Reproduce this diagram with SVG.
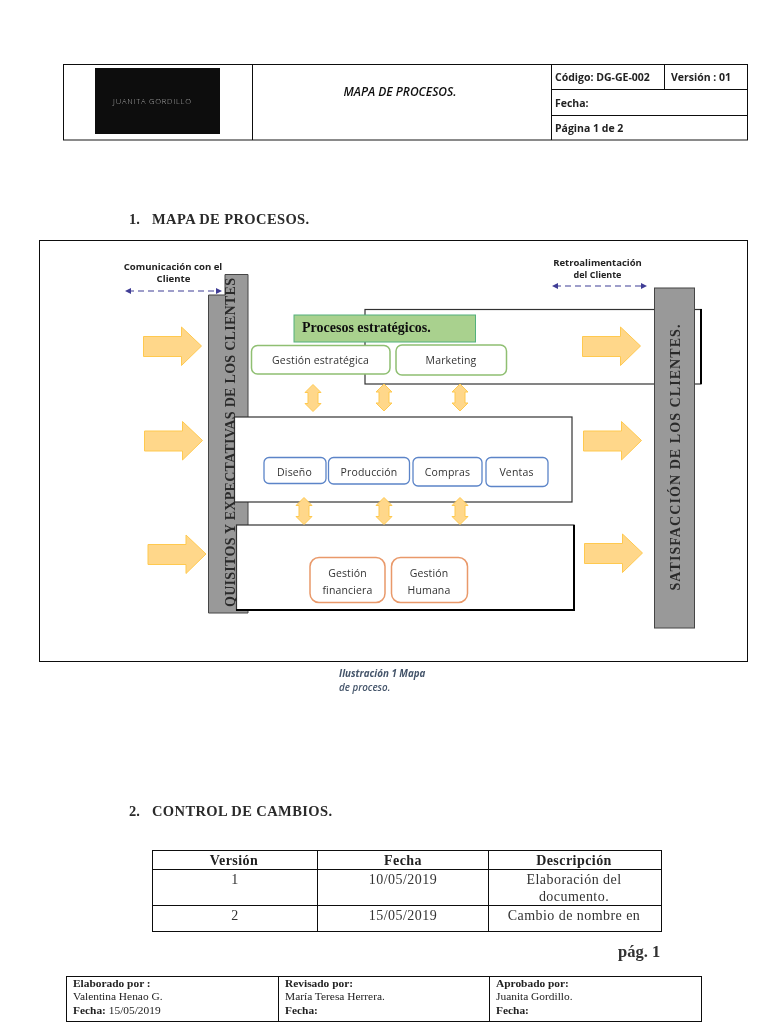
<svg xmlns="http://www.w3.org/2000/svg" width="768" height="1024" viewBox="0 0 768 1024">
<style>
text{fill:#111;font-family:"Liberation Serif",serif}
.s{font-family:"Open Sans","Liberation Sans",sans-serif}
.m{text-anchor:middle}
.b{font-weight:bold}
.ln{fill:none;stroke:#111;stroke-width:1}
.box{fill:#fff;stroke:#333;stroke-width:1.2}
.edge{fill:none;stroke:#000;stroke-width:2}
.bar{fill:#999;stroke:#444;stroke-width:1}
.g{fill:#fff;stroke:#8fbf72;stroke-width:1.5}
.bl{fill:#fff;stroke:#5b84c8;stroke-width:1.3}
.o{fill:#fff;stroke:#e9996a;stroke-width:1.5}
.ar{fill:#ffd78a;stroke:#ffc94f;stroke-width:1}
.lbl{font-size:10.5px;fill:#333;letter-spacing:.15px}
.t{font-size:14px;fill:#333;letter-spacing:.45px}
.th{font-size:14px;fill:#222;font-weight:bold;letter-spacing:.45px}
.f{font-size:11.4px;fill:#222}
.d{stroke:#3f3d96;stroke-width:1.2;stroke-dasharray:6 4;fill:none;marker-start:url(#mk);marker-end:url(#mk)}
.hd{font-size:14.5px;font-weight:bold;fill:#2a2a2a}
.lab{font-size:9.6px;font-weight:bold;fill:#222}
.cell{font-size:10.5px;font-weight:700;fill:#222}
</style>
<defs>
<filter id="soft" x="0" y="0" width="100%" height="100%"><feGaussianBlur stdDeviation="0.35"/></filter>
<marker id="mk" viewBox="0 0 6 6" refX="3" refY="3" markerWidth="5" markerHeight="5" orient="auto-start-reverse"><path d="M0 0L6 3L0 6Z" fill="#3f3d96"/></marker>
<path id="ra" d="M0 9.500H38V0L58 19L38 38.500V29.500H0Z"/>
<path id="da" d="M0 13.500L-8 5.500H-5V-5.500H-8L0-13.500L8-5.500H5V5.500H8Z"/>
</defs>
<rect width="768" height="1024" fill="#fff"/>
<g id="page" filter="url(#soft)">
<g id="header">
<rect class="ln" x="63.500" y="64.500" width="684" height="75.500"/>
<path class="ln" d="M252.500 64V140M551.500 64V140M664.500 64V89M551 89.500H747M551 115.500H747"/>
<rect x="95" y="68" width="125" height="66" fill="#0a0a0a"/>
<text class="s m" x="152" y="104" font-size="7.500" textLength="78" style="fill:#b4b4b4;font-weight:300">JUANITA GORDILLO</text>
<text class="s m" x="400" y="96" font-size="12" font-style="italic" style="fill:#111;font-weight:600">MAPA DE PROCESOS.</text>
<text class="s cell" x="555" y="81">Código: DG-GE-002</text>
<text class="s cell" x="671" y="81">Versión : 01</text>
<text class="s cell" x="555" y="107">Fecha:</text>
<text class="s cell" x="555" y="132">Página 1 de 2</text>
</g>
<text class="hd" x="129" y="224">1.</text>
<text class="hd" x="152" y="224" letter-spacing=".4">MAPA DE PROCESOS.</text>
<rect class="ln" x="39.500" y="240.500" width="708" height="421"/>
<g id="bar-left">
<path class="bar" d="M225 274.500H248V613H208.500V295H225Z"/>
</g>
<g id="process-boxes">
<rect class="box" x="365" y="309.500" width="336" height="74.500"/>
<path class="edge" d="M701 309V384"/>
<rect class="box" x="234.500" y="417" width="337.500" height="85"/>
<rect class="box" x="236.500" y="525" width="337.500" height="85"/>
<path class="edge" d="M236 610H574V525"/>
</g>
<text class="b" id="bar-left-label" transform="translate(235 607) rotate(-90)" font-size="14" textLength="329" lengthAdjust="spacing" style="fill:#2a2a2a">QUISITOS Y EXPECTATIVAS DE LOS CLIENTES</text>
<g id="bar-right">
<rect class="bar" x="654.500" y="288" width="40" height="340"/>
<text class="b m" transform="translate(680 457.500) rotate(-90)" font-size="14" textLength="266" lengthAdjust="spacing" style="fill:#2a2a2a">SATISFACCIÓN DE LOS CLIENTES.</text>
</g>
<g id="connectors">
<use href="#ra" class="ar" x="143.500" y="327"/>
<use href="#ra" class="ar" x="144.500" y="421.500"/>
<use href="#ra" class="ar" x="148" y="535"/>
<use href="#ra" class="ar" x="582.500" y="327"/>
<use href="#ra" class="ar" x="583.500" y="421.500"/>
<use href="#ra" class="ar" x="584.500" y="534"/>
<use href="#da" class="ar" x="313" y="398"/>
<use href="#da" class="ar" x="384" y="397.500"/>
<use href="#da" class="ar" x="460" y="397.500"/>
<use href="#da" class="ar" x="304" y="511"/>
<use href="#da" class="ar" x="384" y="511"/>
<use href="#da" class="ar" x="460" y="511"/>
<path class="d" d="M128 291H219"/>
<path class="d" d="M555 286H644"/>
</g>
<g id="comunicacion">
<text class="s m lab" x="173" y="270">Comunicación con el</text>
<text class="s m lab" x="173.500" y="281.500">Cliente</text>
</g>
<g id="retro">
<text class="s m" x="597.500" y="266" font-size="9.500" font-weight="bold" style="fill:#222">Retroalimentación</text>
<text class="s m" x="597.500" y="277.500" font-size="9" font-weight="bold" style="fill:#222">del Cliente</text>
</g>
<g id="estrategicos">
<rect x="294" y="315" width="181.500" height="27" fill="#a9d18e" stroke="#52b07c" stroke-width="1"/>
<text class="b" x="302" y="332" font-size="14" style="fill:#111">Procesos estratégicos.</text>
</g>
<g id="gestion-estrategica"><rect class="g" x="251.500" y="345.500" width="138.500" height="28.500" rx="6"/><text class="s m lbl" x="320.500" y="364">Gestión estratégica</text></g>
<g id="marketing"><rect class="g" x="396" y="345" width="110.500" height="30" rx="6"/><text class="s m lbl" x="451" y="364">Marketing</text></g>
<g id="diseno"><rect class="bl" x="264" y="457.500" width="62" height="26" rx="5"/><text class="s m lbl" x="294.500" y="475.500">Diseño</text></g>
<g id="produccion"><rect class="bl" x="328.500" y="457.500" width="81" height="26.500" rx="5"/><text class="s m lbl" x="369" y="475.500">Producción</text></g>
<g id="compras"><rect class="bl" x="413" y="457.500" width="69" height="28.500" rx="5"/><text class="s m lbl" x="447.500" y="476">Compras</text></g>
<g id="ventas"><rect class="bl" x="486" y="457.500" width="62" height="29" rx="5"/><text class="s m lbl" x="516.500" y="476">Ventas</text></g>
<g id="gestion-financiera"><rect class="o" x="310" y="557.500" width="75" height="45" rx="9"/><text class="s m lbl" x="347.500" y="577">Gestión</text><text class="s m lbl" x="347.500" y="594">financiera</text></g>
<g id="gestion-humana"><rect class="o" x="391.500" y="557.500" width="76" height="45" rx="9"/><text class="s m lbl" x="429" y="577">Gestión</text><text class="s m lbl" x="429" y="594">Humana</text></g>
<text class="s" x="339" y="677" font-size="9.800" font-style="italic" font-weight="bold" style="fill:#44546a">Ilustración 1 Mapa</text>
<text class="s" x="339" y="691" font-size="9.800" font-style="italic" style="fill:#44546a;font-weight:600">de proceso.</text>
<text class="hd" x="129" y="816">2.</text>
<text class="hd" x="152" y="816" letter-spacing=".4">CONTROL DE CAMBIOS.</text>
<g id="cambios">
<rect class="ln" x="152.500" y="850.500" width="509" height="81"/>
<path class="ln" d="M317.500 850V931M488.500 850V931M152 869.500H661M152 905.500H661"/>
<text class="m th" x="234" y="865">Versión</text>
<text class="m th" x="403" y="865">Fecha</text>
<text class="m th" x="574" y="865">Descripción</text>
<text class="m t" x="235" y="884">1</text>
<text class="m t" x="403" y="884">10/05/2019</text>
<text class="m t" x="574" y="884">Elaboración del</text>
<text class="m t" x="574" y="901">documento.</text>
<text class="m t" x="235" y="920">2</text>
<text class="m t" x="403" y="920">15/05/2019</text>
<text class="m t" x="574" y="920">Cambio de nombre en</text>
</g>
<text x="618" y="957" font-size="16.500" font-weight="bold" style="fill:#333">pág. 1</text>
<g id="footer">
<rect class="ln" x="66.500" y="976.500" width="635" height="45"/>
<path class="ln" d="M278.500 976V1021M489.500 976V1021"/>
<text class="f b" x="73" y="987">Elaborado por :</text><text class="f" x="73" y="1000">Valentina Henao G.</text><text class="f" x="73" y="1014"><tspan font-weight="bold">Fecha:</tspan> 15/05/2019</text>
<text class="f b" x="285" y="987">Revisado por:</text><text class="f" x="285" y="1000">María Teresa Herrera.</text><text class="f b" x="285" y="1014">Fecha:</text>
<text class="f b" x="496" y="987">Aprobado por:</text><text class="f" x="496" y="1000">Juanita Gordillo.</text><text class="f b" x="496" y="1014">Fecha:</text>
</g>
</g>
</svg>
